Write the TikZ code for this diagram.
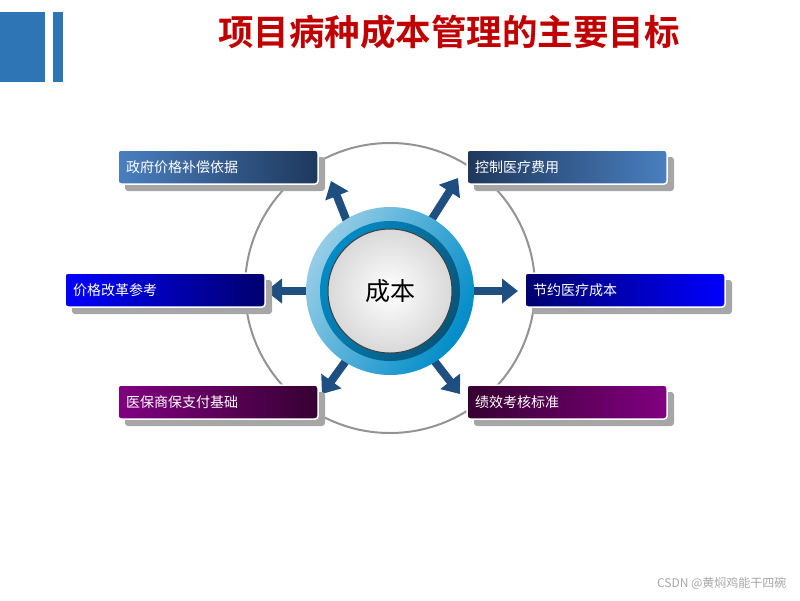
\documentclass[tikz,border=0pt]{standalone}
\usepackage{fontspec}
\setmainfont{Noto Sans CJK SC}
\newfontfamily\cjkb{Noto Sans CJK SC Bold}
\usetikzlibrary{arrows.meta,shadings}
\definecolor{titlered}{HTML}{C00000}
\definecolor{barblue}{HTML}{2E75B6}
\definecolor{arrowblue}{HTML}{1F4E80}
\definecolor{ringlight}{RGB}{150,205,230}
\definecolor{ringdark}{RGB}{0,140,200}
\definecolor{ringband}{RGB}{10,105,150}
\tikzset{x=1pt,y=-1pt,
 goal/.style={draw=white,line width=1.5pt,rounded corners=3pt,minimum width=200pt,minimum height=34pt,
   text=white,font=\fontsize{14}{14}\selectfont,align=left,inner xsep=8pt,text width=184pt},
 shadowbox/.style={fill=gray!70,rounded corners=3pt,minimum width=200pt,minimum height=34pt},
 bigarrow/.style={draw=arrowblue,line width=8pt,-{Triangle[length=16pt,width=24pt]}}}
\begin{document}
\begin{tikzpicture}
\useasboundingbox (0,0) rectangle (800,600);
\fill[barblue] (0,12) rectangle (45,82);
\fill[barblue] (53,12) rectangle (63,82);
\node[text=titlered,font=\cjkb\fontsize{35.5}{35.5}\selectfont] (title) at (449,32) {项目病种成本管理的主要目标};
\draw[gray!85,line width=2pt] (390,288) circle[radius=145];
\coordinate (c) at (390,291);
\draw[bigarrow] (348,224) -- (331,181);
\draw[bigarrow] (430,222) -- (458,178);
\draw[bigarrow] (308,291) -- (266,291);
\draw[bigarrow] (472,291) -- (518,291);
\draw[bigarrow] (348,358) -- (322,394);
\draw[bigarrow] (432,358) -- (460,394);
\shade[left color=ringlight,right color=ringdark,shading angle=60] (c) circle[radius=84];
\shade[left color=ringband!80!black,right color=ringdark,shading angle=240] (c) circle[radius=70];
\shade[draw=black!75,line width=1pt,inner color=white,outer color=gray!30,shading=radial] (c) circle[radius=62];
\node[font=\fontsize{25}{25}\selectfont] (core) at (c) {成本};
\foreach \x/\y in {218/167, 567/167, 165/290, 625/290, 218/402, 567/402}
  \node[shadowbox] at (\x+7,\y+7) {};
\node[goal,left color={rgb,255:red,74;green,127;blue,192},right color={rgb,255:red,30;green,56;blue,92}] (g1) at (218,167) {政府价格补偿依据};
\node[goal,left color={rgb,255:red,30;green,56;blue,92},right color={rgb,255:red,74;green,127;blue,192}] (g2) at (567,167) {控制医疗费用};
\node[goal,left color={rgb,255:red,0;green,0;blue,255},right color={rgb,255:red,0;green,0;blue,110}] (g3) at (165,290) {价格改革参考};
\node[goal,left color={rgb,255:red,0;green,0;blue,110},right color={rgb,255:red,0;green,0;blue,255}] (g4) at (625,290) {节约医疗成本};
\node[goal,left color={rgb,255:red,128;green,0;blue,128},right color={rgb,255:red,55;green,0;blue,50}] (g5) at (218,402) {医保商保支付基础};
\node[goal,left color={rgb,255:red,55;green,0;blue,50},right color={rgb,255:red,128;green,0;blue,128}] (g6) at (567,402) {绩效考核标准};
\node[text=gray!70,font=\fontsize{12}{12}\selectfont,anchor=east] (wm) at (790,583) {CSDN @黄焖鸡能干四碗};
\end{tikzpicture}
\end{document}
